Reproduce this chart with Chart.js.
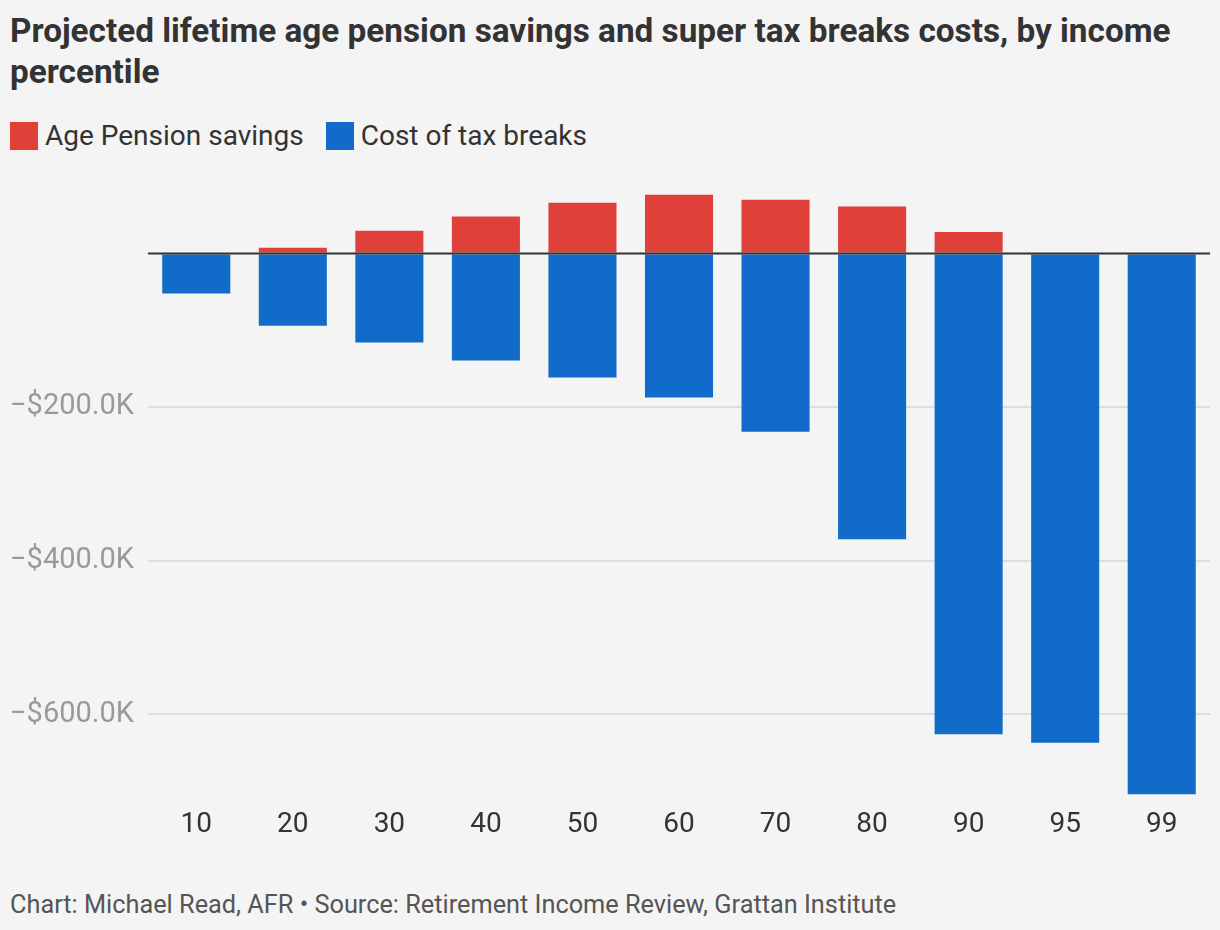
<!DOCTYPE html>
<html>
<head>
<meta charset="utf-8">
<script src="https://cdn.jsdelivr.net/npm/chart.js@4.4.1/dist/chart.umd.min.js"></script>
<style>
  body { margin: 0; background: #f4f4f4; font-family: Roboto, sans-serif; }
  #wrap { position: relative; width: 1220px; height: 930px; }
  h1 { position: absolute; left: 10px; top: 10px; margin: 0; width: 1200px;
       font-size: 33.3px; line-height: 41px; font-weight: 700; color: #333; }
  #legend { position: absolute; left: 10px; top: 122px; font-size: 28px; line-height: 28px;
            color: #333; white-space: nowrap; }
  #legend span.item { display: inline-block; margin-right: 22px; }
  #legend span.sw { display: inline-block; width: 28px; height: 28px; vertical-align: top; margin-right: 7px; }
  #box { position: absolute; left: 0; top: 160px; width: 1220px; height: 685px; }
  #foot { position: absolute; left: 10px; top: 890px; font-size: 25.3px; line-height: 30px; color: #555; }
</style>
</head>
<body>
<div id="wrap">
  <h1>Projected lifetime age pension savings and super tax breaks costs, by income percentile</h1>
  <div id="legend"></div>
  <div id="box"><canvas id="barChart"></canvas></div>
  <div id="foot">Chart: Michael Read, AFR • Source: Retirement Income Review, Grattan Institute</div>
</div>
<script>
// income percentiles
var percentiles = ["10", "20", "30", "40", "50", "60", "70", "80", "90", "95", "99"];
// values in dollars
var pensionSavings = [0, 7500, 29500, 48000, 66000, 76500, 70000, 61000, 28000, 0, 0];
var taxBreakCost = [-52000, -94000, -116000, -139500, -161500, -187500, -232000, -372000, -626000, -637000, -704000];
var yTicks = [0, -200000, -400000, -600000];

// dark line at zero drawn over the bars
var zeroLine = {
  id: 'zeroLine',
  afterDatasetsDraw: function(chart) {
    var ctx = chart.ctx, y = chart.scales.y.getPixelForValue(0);
    ctx.save();
    ctx.strokeStyle = '#333';
    ctx.lineWidth = 2;
    ctx.beginPath();
    ctx.moveTo(chart.chartArea.left, y);
    ctx.lineTo(chart.chartArea.right, y);
    ctx.stroke();
    ctx.restore();
  }
};

var ctxB = document.getElementById("barChart").getContext('2d');
var myBarChart = new Chart(ctxB, {
  type: 'bar',
  data: {
    labels: percentiles,
    datasets: [{
      label: "Age Pension savings",
      data: pensionSavings,
      backgroundColor: "#e0403a"
    }, {
      label: "Cost of tax breaks",
      data: taxBreakCost,
      backgroundColor: "#106cc8"
    }]
  },
  options: {
    responsive: true,
    maintainAspectRatio: false,
    animation: false,
    layout: { padding: { left: 10, right: 10, top: 32, bottom: 0 } },
    datasets: { bar: { barPercentage: 1, categoryPercentage: 0.705 } },
    plugins: {
      legend: { display: false },
      tooltip: { enabled: false }
    },
    scales: {
      x: {
        stacked: true,
        grid: { display: false },
        border: { display: false },
        ticks: { color: '#333', padding: 5, font: { family: 'Roboto', size: 28 } },
        afterFit: function(scale) { scale.height = 50; }
      },
      y: {
        stacked: true,
        min: -705000,
        max: 80000,
        afterBuildTicks: function(scale) {
          scale.ticks = yTicks.map(function(v) { return { value: v }; });
        },
        afterFit: function(scale) { scale.width = 138; },
        border: { display: false },
        grid: {
          drawTicks: false,
          lineWidth: 2,
          color: function(c) { return c.tick && c.tick.value === 0 ? 'rgba(0,0,0,0)' : '#dddddd'; }
        },
        ticks: {
          crossAlign: 'far',
          padding: 8,
          color: '#999',
          font: { family: 'Roboto', size: 29 },
          callback: function(v) {
            if (v === 0) return '';
            return '\u2212$' + (Math.abs(v) / 1000).toFixed(1) + 'K';
          }
        }
      }
    }
  },
  plugins: [zeroLine]
});

// legend built from the datasets
var legendHtml = '';
myBarChart.data.datasets.forEach(function(ds) {
  legendHtml += '<span class="item"><span class="sw" style="background:' + ds.backgroundColor + '"></span>' + ds.label + '</span>';
});
document.getElementById('legend').innerHTML = legendHtml;
</script>
</body>
</html>
